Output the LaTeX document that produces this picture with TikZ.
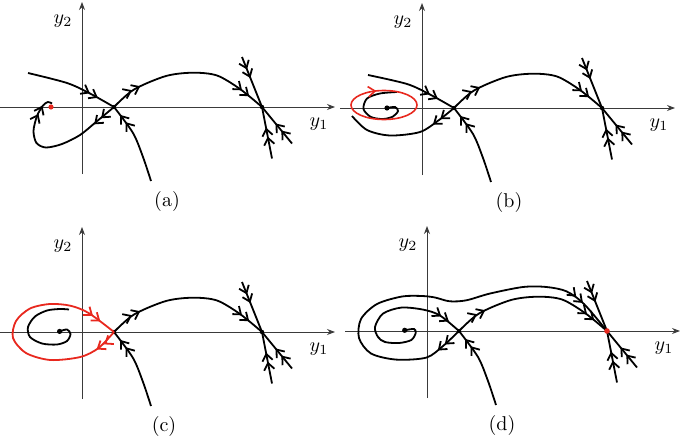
\documentclass[tikz,border=0pt]{standalone}
\usepackage{amsmath}
\usepackage{tikz}
\usetikzlibrary{arrows.meta,decorations.markings}
\definecolor{dotRed}{HTML}{E8281E}
\definecolor{axisGray}{HTML}{3A3A3A}
\tikzset{
  orbit/.style={line width=0.9pt},
  axisLine/.style={axisGray,line width=0.5pt,-{Stealth[length=4pt,width=3pt]}},
  midArrow/.style={postaction={decorate,decoration={markings,
    mark=at position #1 with {\arrow{Straight Barb[length=3.4pt,width=5.2pt,sep=0pt]Straight Barb[length=3.4pt,width=5.2pt,sep=0pt]}}}}},
  oneArrow/.style={postaction={decorate,decoration={markings,
    mark=at position #1 with {\arrow{Straight Barb[length=3.4pt,width=5.2pt]}}}}}
}

\begin{document}
\begin{tikzpicture}[x=0.5pt,y=0.5pt]
\useasboundingbox (0,0) rectangle (685,435);
% shared parts of the four portraits
\foreach \ox/\oy/\panel/\lx in {82/328/a/85, 422/327/b/87, 82/103/c/82, 427/104/d/75}{
\begin{scope}[shift={(\ox,\oy)}]
\draw[axisLine] (-82,0)--(253,0);
\draw[axisLine] (0,-67)--(0,105);
\node at (-19,86) {$y_2$};
\node at (237,-17) {$y_1$};
\node at (\lx,-94) {(\panel)};
\coordinate (s\panel) at (32,0);
\coordinate (n\panel) at (180,0);
\draw[orbit,midArrow=0.88] plot[smooth] coordinates {(69,-74) (61,-50) (51,-26) (s\panel)};
\draw[orbit,midArrow=0.2,midArrow=0.9] plot[smooth] coordinates {(s\panel) (52,17.5) (84,31) (111,34.3) (135,31.5) (158,18) (n\panel)};
\draw[orbit,midArrow=0.42] (160,50)--(n\panel);
\draw[orbit,midArrow=0.55] (210,-36.5)--(n\panel);
\draw[orbit,midArrow=0.6] (190,-51.5)--(n\panel);
\fill (s\panel) circle (2.2);
\fill (n\panel) circle (2.2);
\end{scope}
}
% (a)
\begin{scope}[shift={(82,328)}]
\draw[orbit,midArrow=0.8] plot[smooth] coordinates {(-54,34) (-15,24) (8,13.5) (sa)};
\draw[orbit] plot[smooth] coordinates {(sa) (14,-15) (-2,-28) (-20,-37) (-36,-40.5) (-45.5,-36) (-48.5,-24) (-45,-9) (-39,1.5) (-34,5) (-30,3.5)};
\path[orbit,midArrow=0.99] (sa)--(12,-17.5);
\path[orbit,midArrow=0.99] (-46,-12)--(-39.5,1.5);
\fill[dotRed] (-31,0) circle (2.6);
\end{scope}
% (b)
\begin{scope}[shift={(422,327)}]
\draw[orbit,midArrow=0.8] plot[smooth] coordinates {(-54,33) (-15,24) (8,13.5) (sb)};
\draw[orbit,midArrow=0.23] plot[smooth] coordinates {(sb) (17,-12) (-2,-24) (-32,-27.5) (-55,-22) (-70,-8)};
\draw[orbit] plot[smooth] coordinates {(-35,0) (-27,1) (-24,-3) (-29,-8.5) (-39,-11) (-51,-9) (-58.5,-1) (-55,9.5) (-42,14.5) (-25,16)};
\draw[dotRed,line width=0.8pt,oneArrow=0.2] (-71,3) arc[start angle=180,end angle=-180,x radius=33,y radius=14.5];
\fill (-35,0) circle (2.6);
\end{scope}
% (c)
\begin{scope}[shift={(82,103)}]
\draw[dotRed,orbit,midArrow=0.1,midArrow=0.93] plot[smooth] coordinates {(sc) (16.6,-16) (-1.7,-25) (-31.7,-28) (-56,-21) (-69,-6) (-66,11) (-52,23.5) (-32,28) (-11.7,26.3) (6.6,19) (sc)};
\draw[orbit] plot[smooth] coordinates {(-22.4,0.6) (-15,2.5) (-11.5,-2) (-15,-9) (-25,-12.5) (-40,-11.5) (-52,-5) (-54,5) (-47,15.5) (-35,21.5) (-22,23) (-13,22.5)};
\fill (-22.4,0.6) circle (2.6);
\end{scope}
% (d)
\begin{scope}[shift={(427,104)}]
\draw[orbit] plot[smooth] coordinates {(-22.3,0.7) (-13,2) (-11.3,-2) (-15.7,-9) (-28,-12) (-42,-11) (-49,-6) (-52,4) (-44,17.4) (-25.7,23.4) (-4,21.4) (12.7,15.7) (sd)};
\path[orbit,midArrow=0.99] (12.7,15.7)--(22,9.5);
\draw[orbit,midArrow=0.07,midArrow=0.91] plot[smooth] coordinates {(sd) (16,-15) (-0.7,-26.6) (-30.7,-28.6) (-56,-22.5) (-68,-7) (-66,12) (-50,27) (-25,34.5) (-5,35) (8,33.5) (22.7,29.7) (39.4,30.7) (62.7,37.4) (96,44) (119.4,44) (139.4,39.7) (157,27) (nd)};
\fill (-22.3,0.7) circle (2.6);
\fill[dotRed] (nd) circle (2.8);
\end{scope}
\end{tikzpicture}
\end{document}
